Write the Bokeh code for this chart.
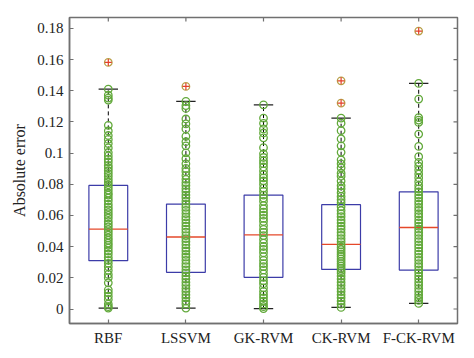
import numpy as np
from bokeh.plotting import figure
from bokeh.models import Range1d, FixedTicker
from bokeh.embed import file_html
from bokeh.resources import INLINE

categories = ["RBF", "LSSVM", "GK-RVM", "CK-RVM", "F-CK-RVM"]

# box statistics
q1 = [0.0310, 0.0235, 0.0203, 0.0254, 0.0250]
median = [0.0513, 0.0462, 0.0475, 0.0414, 0.0523]
q3 = [0.0793, 0.0673, 0.0731, 0.0669, 0.0752]
whisk_lo = [0.0006, 0.0006, 0.0003, 0.0010, 0.0036]
whisk_hi = [0.1410, 0.1332, 0.1310, 0.1225, 0.1447]

# outliers (group index, value)
outlier_group = [0, 1, 3, 3, 4]
outlier_value = [0.1582, 0.1428, 0.1464, 0.1321, 0.1783]

# individual absolute errors per model
pts_rbf = [0.141, 0.1372, 0.1353, 0.134, 0.1178, 0.1142, 0.1113, 0.1088, 0.1061, 0.1033,
           0.1004, 0.0982, 0.0961, 0.0943, 0.0921, 0.0905, 0.0887, 0.0869, 0.0851, 0.0832,
           0.0814, 0.0797, 0.0781, 0.0763, 0.0744, 0.0731, 0.0712, 0.0694, 0.0672, 0.0653,
           0.0636, 0.0618, 0.0601, 0.0583, 0.0562, 0.0544, 0.0527, 0.0509, 0.0492, 0.0474,
           0.0456, 0.0441, 0.0423, 0.0409, 0.0391, 0.0372, 0.0353, 0.0331, 0.0312, 0.0293,
           0.0271, 0.0248, 0.0222, 0.0201, 0.0168, 0.0123, 0.0104, 0.0082, 0.0061, 0.0032,
           0.0015, 0.0006]
pts_lssvm = [0.1332, 0.1305, 0.1287, 0.1219, 0.1188, 0.1155, 0.1108, 0.1073, 0.1047, 0.1002,
             0.0964, 0.0931, 0.0902, 0.0881, 0.0856, 0.0832, 0.0811, 0.0793, 0.0771, 0.0752,
             0.0731, 0.0713, 0.0692, 0.0671, 0.0652, 0.0633, 0.0612, 0.0591, 0.0573, 0.0552,
             0.0531, 0.0512, 0.0493, 0.0471, 0.0452, 0.0433, 0.0412, 0.0391, 0.0372, 0.0351,
             0.0333, 0.0312, 0.0291, 0.0272, 0.0251, 0.0232, 0.0211, 0.0192, 0.0171, 0.0152,
             0.0131, 0.0112, 0.0091, 0.0072, 0.0051, 0.0032, 0.0006]
pts_gk = [0.131, 0.1225, 0.1191, 0.1155, 0.1129, 0.1098, 0.1035, 0.0996, 0.0972, 0.0951,
          0.0932, 0.0911, 0.0886, 0.0862, 0.0841, 0.0822, 0.0801, 0.0776, 0.0754, 0.0731,
          0.0712, 0.0691, 0.0664, 0.0642, 0.0621, 0.0602, 0.0581, 0.0562, 0.0536, 0.0511,
          0.0492, 0.0471, 0.0446, 0.0422, 0.0401, 0.0382, 0.0361, 0.0336, 0.0312, 0.0291,
          0.0272, 0.0251, 0.0226, 0.0203, 0.0181, 0.0162, 0.0136, 0.0112, 0.0091, 0.0072,
          0.0051, 0.0032, 0.0015, 0.0003]
pts_ck = [0.1225, 0.1192, 0.1144, 0.1091, 0.1047, 0.1005, 0.0957, 0.0931, 0.0906, 0.0871,
          0.0852, 0.0821, 0.0792, 0.0771, 0.0746, 0.0722, 0.0701, 0.0682, 0.0656, 0.0632,
          0.0611, 0.0592, 0.0571, 0.0552, 0.0531, 0.0512, 0.0491, 0.0472, 0.0451, 0.0432,
          0.0412, 0.0396, 0.0381, 0.0366, 0.0352, 0.0337, 0.0321, 0.0306, 0.0291, 0.0276,
          0.0261, 0.0246, 0.0231, 0.0211, 0.0192, 0.0171, 0.0152, 0.0131, 0.0112, 0.0091,
          0.0072, 0.0051, 0.0031, 0.001]
pts_fck = [0.1447, 0.1347, 0.1228, 0.1212, 0.1197, 0.1122, 0.1043, 0.0977, 0.0941, 0.0916,
           0.0891, 0.0866, 0.0842, 0.0816, 0.0792, 0.0771, 0.0752, 0.0731, 0.0712, 0.0691,
           0.0672, 0.0651, 0.0632, 0.0611, 0.0592, 0.0571, 0.0552, 0.0531, 0.0512, 0.0491,
           0.0472, 0.0451, 0.0432, 0.0411, 0.0392, 0.0371, 0.0352, 0.0331, 0.0312, 0.0291,
           0.0272, 0.0251, 0.0232, 0.0211, 0.0192, 0.0171, 0.0152, 0.0131, 0.0112, 0.0091,
           0.0072, 0.0055, 0.0036]
points = [pts_rbf, pts_lssvm, pts_gk, pts_ck, pts_fck]

y_ticks = [0, 0.02, 0.04, 0.06, 0.08, 0.1, 0.12, 0.14, 0.16, 0.18]
y_tick_labels = ["0", "0.02", "0.04", "0.06", "0.08", "0.1", "0.12", "0.14", "0.16", "0.18"]

xs = np.arange(1, len(categories) + 1, dtype=float)
FONT = "Liberation Serif"
AX = "#707070"
GREEN = "#62a93b"

x_range = Range1d(0.5, 5.5)
y_range = Range1d(-0.0093, 0.187)
p = figure(width=466, height=350, output_backend="svg", toolbar_location=None,
           x_range=x_range, y_range=y_range,
           min_border_left=69, min_border_right=9, min_border_top=17, min_border_bottom=27)
p.grid.visible = False
p.background_fill_color = "white"
p.border_fill_color = "white"
p.outline_line_color = AX
p.outline_line_width = 1.5

def style_axis(ax):
    ax.axis_line_color = AX
    ax.axis_line_width = 1.5
    ax.major_tick_line_color = AX
    ax.major_tick_line_width = 1.2
    ax.major_tick_in = 4
    ax.major_tick_out = 0
    ax.minor_tick_line_color = None
    ax.major_label_text_font = FONT
    ax.major_label_text_color = "#222222"
    ax.major_label_text_font_size = "15px"

# bottom axis
xa = p.xaxis[0]
xa.ticker = FixedTicker(ticks=list(xs))
xa.major_label_overrides = {float(x): c for x, c in zip(xs, categories)}
style_axis(xa)
xa.major_label_standoff = 6

# left axis
ya = p.yaxis[0]
ya.ticker = FixedTicker(ticks=y_ticks)
ya.major_label_overrides = {t: l for t, l in zip(y_ticks, y_tick_labels)}
style_axis(ya)
ya.major_label_standoff = 6
ya.axis_label = "Absolute error"
ya.axis_label_text_font = FONT
ya.axis_label_text_font_style = "normal"
ya.axis_label_text_font_size = "16px"
ya.axis_label_text_color = "#222222"
ya.axis_label_standoff = 6

# tick marks on the top and right frame edges (clipped to the frame -> inward ticks)
p.scatter(xs, [y_range.end] * len(xs), marker="dash", angle=np.pi / 2, size=8,
          line_color=AX, line_width=1.2)
p.scatter([x_range.end] * len(y_ticks), y_ticks, marker="dash", size=8,
          line_color=AX, line_width=1.2)

q1a, q3a = np.array(q1), np.array(q3)
# dashed whiskers
p.segment(x0=xs, y0=q3a, x1=xs, y1=whisk_hi, line_color="black", line_width=1, line_dash="4 3")
p.segment(x0=xs, y0=q1a, x1=xs, y1=whisk_lo, line_color="black", line_width=1, line_dash="4 3")
# caps
p.segment(x0=xs - 0.125, y0=whisk_hi, x1=xs + 0.125, y1=whisk_hi, line_color="#222222", line_width=1.2)
p.segment(x0=xs - 0.125, y0=whisk_lo, x1=xs + 0.125, y1=whisk_lo, line_color="#222222", line_width=1.2)
# boxes
p.quad(left=xs - 0.25, right=xs + 0.25, bottom=q1a, top=q3a, fill_color=None,
       line_color="#3c3ca8", line_width=1.2)
p.segment(x0=xs - 0.25, y0=median, x1=xs + 0.25, y1=median, line_color="#e5482a", line_width=1.3)

# data points
px, py = [], []
for i, vals in enumerate(points):
    px += [xs[i]] * len(vals)
    py += vals
p.scatter(px, py, marker="circle", size=7.5, fill_color=None, line_color=GREEN, line_width=1.3)

ox = [xs[g] for g in outlier_group]
p.scatter(ox, outlier_value, marker="circle", size=7.5, fill_color=None, line_color="#b9a04a", line_width=1.3)
p.scatter(ox, outlier_value, marker="cross", size=7, line_color="#e4402a", line_width=1.2)

open("out.html", "w").write(file_html(p, INLINE))
